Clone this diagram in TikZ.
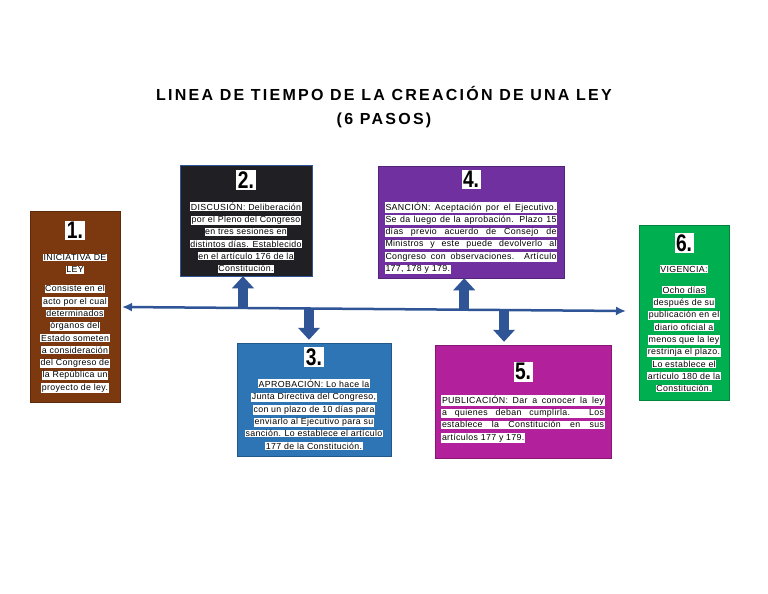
\documentclass[tikz,border=0pt]{standalone}
\usepackage{fontspec}
\setmainfont{Liberation Sans}
\newfontfamily\titulofont[LetterSpace=14]{Liberation Sans}
\newfontfamily\cuerpofont[LetterSpace=4]{Liberation Sans}
\newfontfamily\numerofont[FakeStretch=0.8]{Liberation Sans}
\usepackage{xcolor}
\usetikzlibrary{arrows.meta}
\usetikzlibrary{calc}
\usetikzlibrary{positioning}

\definecolor{cafe}{RGB}{124,56,14}
\definecolor{negro}{RGB}{32,32,36}
\definecolor{morado}{RGB}{112,48,160}
\definecolor{azulcaja}{RGB}{46,117,182}
\definecolor{magenta}{RGB}{178,32,155}
\definecolor{verde}{RGB}{0,176,80}
\definecolor{azul}{RGB}{47,85,151}

\setlength{\fboxsep}{0.6pt}
\newcommand{\resalta}[1]{\colorbox{white}{#1}}
\newcommand{\resaltaj}[2]{\colorbox{white}{\makebox[#1][s]{#2}}}

\begin{document}
\begin{tikzpicture}[x=1pt, y=-1pt,
    caja/.style={fill=#1, draw=#1!75!black, line width=0.5pt, inner sep=0pt},
    numero/.style={fill=white, inner sep=1.5pt,
        font=\numerofont\bfseries\fontsize{24}{24}\selectfont},
    texto/.style={inner sep=0pt, align=center,
        font=\cuerpofont\fontsize{8.8}{12.3}\selectfont},
    titulo/.style={align=center,
        font=\titulofont\bfseries\fontsize{16}{24}\selectfont},
    linea/.style={draw=azul, line width=2.5pt,
        {Latex[length=10pt,width=9pt]}-{Latex[length=10pt,width=9pt]}},
    flechabloque/.style={draw=azul, line width=10pt,
        -{Triangle[width=22pt,length=12pt,line width=0pt]}}]

    \useasboundingbox[fill=white] (0,0) rectangle (768,594);

    \node[titulo] (titulo) at (384,107)
        {LINEA DE TIEMPO DE LA CREACIÓN DE UNA LEY\\(6 PASOS)};

    % cajas de los pasos
    \node[caja=cafe, minimum width=90pt, minimum height=191pt] (b1) at (75,306.5) {};
    \node[caja=negro, draw=azul, minimum width=132pt, minimum height=111pt] (b2) at (246,220.5) {};
    \node[caja=azulcaja, minimum width=154pt, minimum height=113pt] (b3) at (314,399.5) {};
    \node[caja=morado, minimum width=186pt, minimum height=112pt] (b4) at (471,222) {};
    \node[caja=magenta, minimum width=176pt, minimum height=113pt] (b5) at (523,401.5) {};
    \node[caja=verde, minimum width=90pt, minimum height=175pt] (b6) at (684,312.5) {};

    % paso 1
    \node[numero, below=10pt of b1.north] (n1) {1.};
    \node[texto, below=13pt of n1] (e1) {\resalta{INICIATIVA DE}\\\resalta{LEY}};
    \node[texto, below=11pt of e1] (t1) {\resalta{Consiste en el}\\
        \resalta{acto por el cual}\\\resalta{determinados}\\
        \resalta{órganos del}\\\resalta{Estado someten}\\
        \resalta{a consideración}\\\resalta{del Congreso de}\\
        \resalta{la República un}\\\resalta{proyecto de ley.}};

    % paso 2
    \node[numero, below=5pt of b2.north] (n2) {2.};
    \node[texto, below=12pt of n2] (t2) {\resalta{DISCUSIÓN: Deliberación}\\
        \resalta{por el Pleno del Congreso}\\\resalta{en tres sesiones en}\\
        \resalta{distintos días. Establecido}\\
        \resalta{en el artículo 176 de la}\\\resalta{Constitución.}};

    % paso 3
    \node[numero, below=4pt of b3.north] (n3) {3.};
    \node[texto, below=12pt of n3] (t3) {\resalta{APROBACIÓN: Lo hace la}\\
        \resalta{Junta Directiva del Congreso,}\\
        \resalta{con un plazo de 10 días para}\\
        \resalta{enviarlo al Ejecutivo para su}\\
        \resalta{sanción. Lo establece el artículo}\\
        \resalta{177 de la Constitución.}};

    % paso 4
    \node[numero, below=4pt of b4.north] (n4) {4.};
    \node[texto, align=left, below=12pt of n4] (t4)
        {\resaltaj{171pt}{SANCIÓN: Aceptación por el Ejecutivo.}\\
        \resaltaj{171pt}{Se da luego de la aprobación. Plazo 15}\\
        \resaltaj{171pt}{días previo acuerdo de Consejo de}\\
        \resaltaj{171pt}{Ministros y este puede devolverlo al}\\
        \resaltaj{171pt}{Congreso con observaciones. Artículo}\\
        \makebox[171pt][l]{\resalta{177, 178 y 179.}}};

    % paso 5
    \node[numero, below=17pt of b5.north] (n5) {5.};
    \node[texto, align=left, below=13pt of n5] (t5)
        {\resaltaj{162pt}{PUBLICACIÓN: Dar a conocer la ley}\\
        \resaltaj{162pt}{a quienes deban cumplirla. Los}\\
        \resaltaj{162pt}{establece la Constitución en sus}\\
        \makebox[162pt][l]{\resalta{artículos 177 y 179.}}};

    % paso 6
    \node[numero, below=8pt of b6.north] (n6) {6.};
    \node[texto, below=12pt of n6] (e6) {\resalta{VIGENCIA:}};
    \node[texto, below=13pt of e6] (t6) {\resalta{Ocho días}\\
        \resalta{después de su}\\\resalta{publicación en el}\\
        \resalta{diario oficial a}\\\resalta{menos que la ley}\\
        \resalta{restrinja el plazo.}\\\resalta{Lo establece el}\\
        \resalta{artículo 180 de la}\\\resalta{Constitución.}};

    % linea de tiempo
    \coordinate (izq) at (122,307);
    \coordinate (der) at (626,311);
    \coordinate (p2) at ($(izq)!0.24!(der)$);
    \coordinate (p3) at ($(izq)!0.371!(der)$);
    \coordinate (p4) at ($(izq)!0.679!(der)$);
    \coordinate (p5) at ($(izq)!0.758!(der)$);

    \draw[flechabloque] (p2) -- (p2 |- b2.south);
    \draw[flechabloque] (p4) -- (p4 |- b4.south);
    \draw[flechabloque, shorten >=3pt] (p3) -- (p3 |- b3.north);
    \draw[flechabloque, shorten >=3pt] (p5) -- (p5 |- b5.north);
    \draw[linea] (izq) -- (der);
\end{tikzpicture}
\end{document}
